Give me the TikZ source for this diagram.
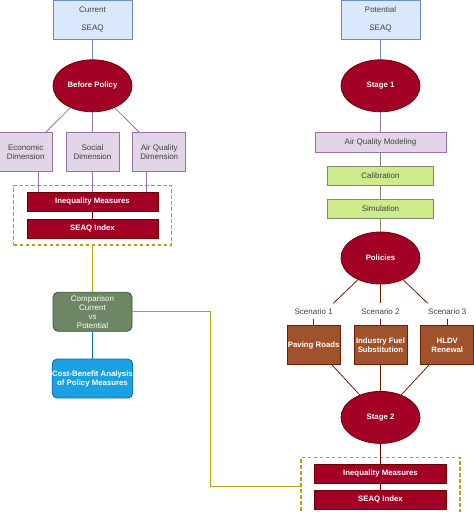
\documentclass[tikz,border=0pt]{standalone}
\usepackage{fontspec}
\setmainfont{Liberation Sans}
\usetikzlibrary{arrows,positioning,shapes.geometric,fit}
\definecolor{seaqfill}{HTML}{DAE8FC}
\definecolor{seaqline}{HTML}{6C8EBF}
\definecolor{redfill}{HTML}{A20025}
\definecolor{redline}{HTML}{6F0000}
\definecolor{dimfill}{HTML}{E1D5E7}
\definecolor{dimline}{HTML}{9673A6}
\definecolor{limefill}{HTML}{CDEB8B}
\definecolor{limeline}{HTML}{7D8C66}
\definecolor{goldline}{HTML}{B8A010}
\definecolor{compfill}{HTML}{6D8764}
\definecolor{compline}{HTML}{3A5431}
\definecolor{cbafill}{HTML}{1BA1E2}
\definecolor{cbaline}{HTML}{006EAF}
\definecolor{scenfill}{HTML}{A0522D}
\definecolor{scenline}{HTML}{6D1F00}

\begin{document}
\begin{tikzpicture}[
  font=\fontsize{8}{9}\selectfont,
  line width=0.8pt,
  every node/.style={inner sep=0pt, align=center},
  seaqbox/.style={draw=seaqline, fill=seaqfill, minimum width=79pt, minimum height=39pt, text=black!75},
  redoval/.style={ellipse, draw=redline, fill=redfill, minimum width=79pt, minimum height=52pt, text=white, font=\fontsize{7.8}{9}\selectfont\bfseries},
  dimbox/.style={draw=dimline, fill=dimfill, minimum width=53pt, minimum height=39pt, text=black!75},
  redbar/.style={draw=redline, fill=redfill, minimum width=131pt, minimum height=19pt, text=white, font=\fontsize{7.8}{9}\selectfont\bfseries},
  limebox/.style={draw=limeline, fill=limefill, minimum width=106pt, minimum height=19pt, text=black!75},
  dashbox/.style={draw=goldline, line width=1.5pt, dash pattern=on 3.5pt off 2.5pt, inner xsep=13pt, inner ysep=6.5pt},
  scenlabel/.style={minimum height=15pt, text=black!75},
  scenbox/.style={draw=scenline, fill=scenfill, minimum width=53pt, minimum height=39pt, text=white, font=\fontsize{7.8}{9}\selectfont\bfseries},
  roundbox/.style={rounded corners=5pt, minimum width=79pt, minimum height=39pt, text=white}
]
\useasboundingbox (0,0) rectangle (474pt,-512pt);
\node (cur) [seaqbox] at (92.5pt,-19.5pt) {Current\\[9pt]SEAQ};
\node (before) [redoval, below=20pt of cur] {Before Policy};
\node (soc) [dimbox, below=20pt of before] {Social\\Dimension};
\node (eco) [dimbox, left=13pt of soc] {Economic\\Dimension};
\node (air) [dimbox, right=13pt of soc] {Air Quality\\Dimension};
\node (ineqa) [redbar, below=20pt of soc] {Inequality Measures};
\node (seaqa) [redbar, below=7pt of ineqa] {SEAQ Index};
\node (dasha) [dashbox, fit=(ineqa) (seaqa)] {};
\node (comp) [roundbox, draw=compline, fill=compfill, below=46pt of dasha] {Comparison\\Current\\vs\\Potential};
\node (cba) [roundbox, draw=cbaline, fill=cbafill, below=27pt of comp, font=\fontsize{7.8}{9}\selectfont\bfseries] {Cost-Benefit Analysis\\of Policy Measures};
\node (pot) [seaqbox] at (380.5pt,-19.5pt) {Potential\\[9pt]SEAQ};
\node (stone) [redoval, below=20pt of pot] {Stage 1};
\node (aqm) [dimbox, minimum width=131pt, minimum height=20pt, below=20pt of stone] {Air Quality Modeling};
\node (calib) [limebox, below=13pt of aqm] {Calibration};
\node (sim) [limebox, below=13pt of calib] {Simulation};
\node (pol) [redoval, below=13pt of sim] {Policies};
\node (scentwo) [scenlabel, below=19pt of pol] {Scenario 2};
\node (ind) [scenbox, below=6pt of scentwo] {Industry Fuel\\Substitution};
\node (pave) [scenbox, left=13pt of ind] {Paving Roads};
\node (hldv) [scenbox, right=13pt of ind] {HLDV\\Renewal};
\node (scenone) [scenlabel, above=6pt of pave] {Scenario 1};
\node (scenthree) [scenlabel, above=6pt of hldv] {Scenario 3};
\node (sttwo) [redoval, below=26pt of ind] {Stage 2};
\node (ineqb) [redbar, minimum width=132pt, below=20pt of sttwo] {Inequality Measures};
\node (seaqb) [redbar, minimum width=132pt, below=6pt of ineqb] {SEAQ Index};
\node (dashb) [dashbox, fit=(ineqb) (seaqb)] {};
\draw[seaqline] (cur) -- (before);
\draw[dimline] (before) -- (eco);
\draw[dimline] (before) -- (soc);
\draw[dimline] (before) -- (air);
\draw[dimline] ([xshift=13pt]eco.south) -- ([xshift=13pt]eco.south |- ineqa.north);
\draw[dimline] (soc) -- (ineqa);
\draw[dimline] ([xshift=-13pt]air.south) -- ([xshift=-13pt]air.south |- ineqa.north);
\draw[redline] (ineqa) -- (seaqa);
\draw[goldline] (dasha) -- (comp);
\draw[cbaline] (comp) -- (cba);
\draw[goldline] (comp.east) -- ++(78pt,0) |- (dashb.west);
\draw[seaqline] (pot) -- (stone);
\draw[dimline] (stone) -- (aqm);
\draw[limeline] (aqm) -- (calib);
\draw[limeline] (calib) -- (sim);
\draw[limeline] (sim) -- (pol);
\draw[scenline] (pol) -- (scenone.north east);
\draw[scenline] (pol) -- (scentwo);
\draw[scenline] (pol) -- (scenthree.north west);
\draw[scenline] (scenone) -- (pave);
\draw[scenline] (scentwo) -- (ind);
\draw[scenline] (scenthree) -- (hldv);
\draw[scenline] (pave) -- (sttwo);
\draw[scenline] (ind) -- (sttwo);
\draw[scenline] (hldv) -- (sttwo);
\draw[redline] (sttwo) -- (ineqb);
\draw[redline] (ineqb) -- (seaqb);
\end{tikzpicture}
\end{document}
